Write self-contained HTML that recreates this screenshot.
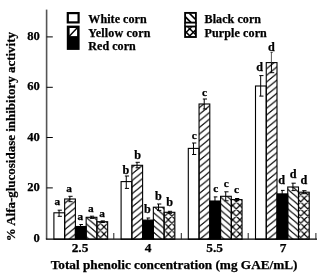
<!DOCTYPE html>
<html><head><meta charset="utf-8"><style>
html,body{margin:0;padding:0;background:#fff;}
svg{display:block;}
text{font-family:"Liberation Serif","Times New Roman",serif;font-weight:bold;fill:#000;stroke:#000;stroke-width:0.25px;}
</style></head><body>
<svg width="325" height="274" viewBox="0 0 325 274">
<defs>
<pattern id="hy0" patternUnits="userSpaceOnUse" width="8.049" height="6.6" x="0" y="5.54">
<path d="M-8.049,13.200 L16.098,-6.600 M-8.049,6.600 L8.049,-6.600 M0.000,13.200 L16.098,0.000" stroke="#000" stroke-width="1.2" fill="none"/>
</pattern>
<pattern id="hy1" patternUnits="userSpaceOnUse" width="8.049" height="6.6" x="0" y="5.04">
<path d="M-8.049,13.200 L16.098,-6.600 M-8.049,6.600 L8.049,-6.600 M0.000,13.200 L16.098,0.000" stroke="#000" stroke-width="1.2" fill="none"/>
</pattern>
<pattern id="hy2" patternUnits="userSpaceOnUse" width="8.049" height="6.6" x="0" y="7.14">
<path d="M-8.049,13.200 L16.098,-6.600 M-8.049,6.600 L8.049,-6.600 M0.000,13.200 L16.098,0.000" stroke="#000" stroke-width="1.2" fill="none"/>
</pattern>
<pattern id="hy3" patternUnits="userSpaceOnUse" width="8.049" height="6.6" x="0" y="3.54">
<path d="M-8.049,13.200 L16.098,-6.600 M-8.049,6.600 L8.049,-6.600 M0.000,13.200 L16.098,0.000" stroke="#000" stroke-width="1.2" fill="none"/>
</pattern>
<pattern id="hb0" patternUnits="userSpaceOnUse" width="7.514" height="6.5" x="0" y="-0.33">
<path d="M-7.514,-6.500 L15.029,13.000 M-7.514,0.000 L7.514,13.000 M0.000,-6.500 L15.029,6.500" stroke="#000" stroke-width="1.2" fill="none"/>
</pattern>
<pattern id="hb1" patternUnits="userSpaceOnUse" width="7.514" height="6.5" x="0" y="1.87">
<path d="M-7.514,-6.500 L15.029,13.000 M-7.514,0.000 L7.514,13.000 M0.000,-6.500 L15.029,6.500" stroke="#000" stroke-width="1.2" fill="none"/>
</pattern>
<pattern id="hb2" patternUnits="userSpaceOnUse" width="7.514" height="6.5" x="0" y="-0.13">
<path d="M-7.514,-6.500 L15.029,13.000 M-7.514,0.000 L7.514,13.000 M0.000,-6.500 L15.029,6.500" stroke="#000" stroke-width="1.2" fill="none"/>
</pattern>
<pattern id="hb3" patternUnits="userSpaceOnUse" width="7.514" height="6.5" x="0" y="-1.13">
<path d="M-7.514,-6.500 L15.029,13.000 M-7.514,0.000 L7.514,13.000 M0.000,-6.500 L15.029,6.500" stroke="#000" stroke-width="1.2" fill="none"/>
</pattern>
<pattern id="hp" patternUnits="userSpaceOnUse" width="7.15" height="7.15" x="3.9" y="5.25">
<path d="M-7.150,-7.150 L14.300,14.300 M-7.150,0.000 L7.150,14.300 M0.000,-7.150 L14.300,7.150 M-7.150,14.300 L14.300,-7.150 M-7.150,7.150 L7.150,-7.150 M0.000,14.300 L14.300,0.000" stroke="#000" stroke-width="1.15" fill="none"/>
</pattern>
</defs>

<rect x="53.90" y="212.80" width="10.75" height="26.40" fill="#fff" stroke="#000" stroke-width="1.1"/>
<rect x="64.65" y="199.00" width="10.75" height="40.20" fill="url(#hy0)" stroke="#000" stroke-width="1.1"/>
<rect x="75.40" y="226.50" width="10.75" height="12.70" fill="#000" stroke="#000" stroke-width="1.1"/>
<rect x="86.15" y="217.30" width="10.75" height="21.90" fill="url(#hb0)" stroke="#000" stroke-width="1.1"/>
<rect x="96.90" y="221.70" width="10.75" height="17.50" fill="url(#hp)" stroke="#000" stroke-width="1.1"/>
<rect x="121.10" y="181.60" width="10.75" height="57.60" fill="#fff" stroke="#000" stroke-width="1.1"/>
<rect x="131.85" y="165.30" width="10.75" height="73.90" fill="url(#hy1)" stroke="#000" stroke-width="1.1"/>
<rect x="142.60" y="220.10" width="10.75" height="19.10" fill="#000" stroke="#000" stroke-width="1.1"/>
<rect x="153.35" y="207.20" width="10.75" height="32.00" fill="url(#hb1)" stroke="#000" stroke-width="1.1"/>
<rect x="164.10" y="212.30" width="10.75" height="26.90" fill="url(#hp)" stroke="#000" stroke-width="1.1"/>
<rect x="188.30" y="148.40" width="10.75" height="90.80" fill="#fff" stroke="#000" stroke-width="1.1"/>
<rect x="199.05" y="104.00" width="10.75" height="135.20" fill="url(#hy2)" stroke="#000" stroke-width="1.1"/>
<rect x="209.80" y="201.00" width="10.75" height="38.20" fill="#000" stroke="#000" stroke-width="1.1"/>
<rect x="220.55" y="196.30" width="10.75" height="42.90" fill="url(#hb2)" stroke="#000" stroke-width="1.1"/>
<rect x="231.30" y="199.60" width="10.75" height="39.60" fill="url(#hp)" stroke="#000" stroke-width="1.1"/>
<rect x="255.50" y="86.00" width="10.75" height="153.20" fill="#fff" stroke="#000" stroke-width="1.1"/>
<rect x="266.25" y="62.60" width="10.75" height="176.60" fill="url(#hy3)" stroke="#000" stroke-width="1.1"/>
<rect x="277.00" y="193.90" width="10.75" height="45.30" fill="#000" stroke="#000" stroke-width="1.1"/>
<rect x="287.75" y="187.00" width="10.75" height="52.20" fill="url(#hb3)" stroke="#000" stroke-width="1.1"/>
<rect x="298.50" y="192.20" width="10.75" height="47.00" fill="url(#hp)" stroke="#000" stroke-width="1.1"/>
<path d="M59.07,210.20V216.30M57.67,210.20H61.88M57.67,216.30H61.88" stroke="#000" stroke-width="1" fill="none"/>
<path d="M69.83,196.30V201.70M68.43,196.30H72.62M68.43,201.70H72.62" stroke="#000" stroke-width="1" fill="none"/>
<path d="M80.58,224.50V226.50M79.38,224.50H82.98" stroke="#000" stroke-width="1" fill="none"/>
<path d="M91.33,216.20V218.40M89.93,216.20H94.12M89.93,218.40H94.12" stroke="#000" stroke-width="1" fill="none"/>
<path d="M102.08,220.90V222.50M100.68,220.90H104.88M100.68,222.50H104.88" stroke="#000" stroke-width="1" fill="none"/>
<path d="M126.27,176.00V188.40M124.88,176.00H129.07M124.88,188.40H129.07" stroke="#000" stroke-width="1" fill="none"/>
<path d="M137.03,162.30V167.80M135.62,162.30H139.82M135.62,167.80H139.82" stroke="#000" stroke-width="1" fill="none"/>
<path d="M147.78,218.00V220.10M146.57,218.00H150.17" stroke="#000" stroke-width="1" fill="none"/>
<path d="M158.53,204.00V210.40M157.12,204.00H161.32M157.12,210.40H161.32" stroke="#000" stroke-width="1" fill="none"/>
<path d="M169.28,211.30V213.30M167.88,211.30H172.07M167.88,213.30H172.07" stroke="#000" stroke-width="1" fill="none"/>
<path d="M193.48,143.00V154.50M192.08,143.00H196.28M192.08,154.50H196.28" stroke="#000" stroke-width="1" fill="none"/>
<path d="M204.23,99.00V109.00M202.83,99.00H207.03M202.83,109.00H207.03" stroke="#000" stroke-width="1" fill="none"/>
<path d="M214.98,196.90V201.00M213.78,196.90H217.38" stroke="#000" stroke-width="1" fill="none"/>
<path d="M225.73,191.80V200.80M224.33,191.80H228.53M224.33,200.80H228.53" stroke="#000" stroke-width="1" fill="none"/>
<path d="M236.48,198.50V200.70M235.08,198.50H239.28M235.08,200.70H239.28" stroke="#000" stroke-width="1" fill="none"/>
<path d="M260.68,75.60V96.10M259.27,75.60H263.48M259.27,96.10H263.48" stroke="#000" stroke-width="1" fill="none"/>
<path d="M271.43,52.50V62.60" stroke="#666" stroke-width="1.1" fill="none"/>
<path d="M271.43,62.60V72.70M270.02,72.70H274.23" stroke="#000" stroke-width="1" fill="none"/>
<path d="M270.62,52.50H272.62" stroke="#444" stroke-width="1" fill="none"/>
<path d="M282.18,190.40V193.90M280.98,190.40H284.57" stroke="#000" stroke-width="1" fill="none"/>
<path d="M292.93,183.20V190.60M291.52,183.20H295.73M291.52,190.60H295.73" stroke="#000" stroke-width="1" fill="none"/>
<path d="M303.68,190.70V193.70M302.27,190.70H306.48M302.27,193.70H306.48" stroke="#000" stroke-width="1" fill="none"/>
<text x="57.25" y="204.90" font-size="11.3" text-anchor="middle">a</text>
<text x="69.05" y="191.80" font-size="11.3" text-anchor="middle">a</text>
<text x="80.40" y="220.00" font-size="11.3" text-anchor="middle">a</text>
<text x="90.95" y="211.70" font-size="11.3" text-anchor="middle">a</text>
<text x="102.00" y="217.10" font-size="11.3" text-anchor="middle">a</text>
<text x="125.80" y="174.00" font-size="12.2" text-anchor="middle">b</text>
<text x="137.60" y="158.80" font-size="12.2" text-anchor="middle">b</text>
<text x="147.40" y="213.40" font-size="12.2" text-anchor="middle">b</text>
<text x="158.50" y="199.50" font-size="12.2" text-anchor="middle">b</text>
<text x="169.60" y="205.70" font-size="12.2" text-anchor="middle">b</text>
<text x="194.20" y="138.50" font-size="11.3" text-anchor="middle">c</text>
<text x="204.40" y="95.80" font-size="11.3" text-anchor="middle">c</text>
<text x="215.70" y="191.70" font-size="11.3" text-anchor="middle">c</text>
<text x="226.20" y="186.80" font-size="11.3" text-anchor="middle">c</text>
<text x="236.40" y="193.40" font-size="11.3" text-anchor="middle">c</text>
<text x="259.70" y="70.80" font-size="12.2" text-anchor="middle">d</text>
<text x="271.50" y="51.10" font-size="12.2" text-anchor="middle">d</text>
<text x="281.75" y="184.20" font-size="12.2" text-anchor="middle">d</text>
<text x="293.10" y="177.50" font-size="12.2" text-anchor="middle">d</text>
<text x="303.90" y="184.20" font-size="12.2" text-anchor="middle">d</text>
<path d="M46.6,9.6V239.2" stroke="#555" stroke-width="1.6" fill="none"/>
<path d="M45.9,239.2H317" stroke="#000" stroke-width="1.2" fill="none"/>
<path d="M46.6,36.9h6.2" stroke="#000" stroke-width="1" fill="none"/>
<path d="M46.6,87.3h6.2" stroke="#000" stroke-width="1" fill="none"/>
<path d="M46.6,137.5h6.2" stroke="#000" stroke-width="1" fill="none"/>
<path d="M46.6,187.9h6.2" stroke="#000" stroke-width="1" fill="none"/>
<path d="M113.8,239.2V233" stroke="#222" stroke-width="1" fill="none"/>
<path d="M181.3,239.2V233" stroke="#222" stroke-width="1" fill="none"/>
<path d="M248.2,239.2V233" stroke="#222" stroke-width="1" fill="none"/>
<path d="M315.9,239.2V233" stroke="#222" stroke-width="1" fill="none"/>
<text x="39.9" y="39.9" font-size="12.6" text-anchor="end">80</text>
<text x="39.9" y="90.3" font-size="12.6" text-anchor="end">60</text>
<text x="39.9" y="140.5" font-size="12.6" text-anchor="end">40</text>
<text x="39.9" y="190.9" font-size="12.6" text-anchor="end">20</text>
<text x="39.9" y="241.5" font-size="12.6" text-anchor="end">0</text>
<text x="80.00" y="252.2" font-size="13.4" text-anchor="middle">2.5</text>
<text x="148.20" y="252.2" font-size="13.4" text-anchor="middle">4</text>
<text x="214.70" y="252.2" font-size="13.4" text-anchor="middle">5.5</text>
<text x="283.10" y="252.2" font-size="13.4" text-anchor="middle">7</text>
<text x="174.1" y="268.8" font-size="13.26" text-anchor="middle">Total phenolic concentration (mg GAE/mL)</text>
<text transform="translate(14.6,136.65) rotate(-90)" x="0" y="0" font-size="12.98" text-anchor="middle">% Alfa-glucosidase inhibitory activity</text>
<rect x="67.8" y="13.1" width="10.8" height="9.3" fill="#fff" stroke="#000" stroke-width="2.2"/>
<rect x="66.8" y="25.6" width="12.8" height="24.3" fill="#000"/>
<rect x="69.6" y="28.0" width="7.5" height="8.1" fill="#fff"/>
<path d="M69.3,36.3 L77.3,27.8" stroke="#000" stroke-width="1.4"/>
<clipPath id="lbc"><rect x="185.8" y="13.5" width="9.7" height="8.6"/></clipPath>
<g clip-path="url(#lbc)" stroke="#000" stroke-width="1.7"><line x1="178.5" y1="10" x2="208.5" y2="40"/><line x1="186.1" y1="10" x2="216.1" y2="40"/></g>
<rect x="185.1" y="12.9" width="10.8" height="9.7" fill="none" stroke="#000" stroke-width="1.85"/>
<rect x="184.2" y="22.6" width="1.6" height="3.6" fill="#000"/>
<rect x="195.2" y="22.6" width="1.6" height="3.6" fill="#000"/>
<clipPath id="lpc"><rect x="185.7" y="27.2" width="9.6" height="9.2"/></clipPath>
<g clip-path="url(#lpc)" stroke="#000" stroke-width="1.5"><line x1="178.5" y1="40" x2="208.5" y2="10"/><line x1="185.6" y1="40" x2="215.6" y2="10"/><line x1="163.9" y1="10" x2="193.9" y2="40"/><line x1="171.0" y1="10" x2="201.0" y2="40"/></g>
<rect x="185.1" y="26.5" width="10.8" height="10.5" fill="none" stroke="#000" stroke-width="1.85"/>
<text x="88.3" y="23.1" font-size="12.05" letter-spacing="0.06">White corn</text>
<text x="88.3" y="36.5" font-size="12.05" letter-spacing="0.15">Yellow corn</text>
<text x="88.3" y="49.6" font-size="12.05" letter-spacing="0.04">Red corn</text>
<text x="204.6" y="23.0" font-size="12.05" letter-spacing="0.06">Black corn</text>
<text x="204.6" y="36.5" font-size="12.05" letter-spacing="0.1">Purple corn</text>
</svg>
</body></html>
